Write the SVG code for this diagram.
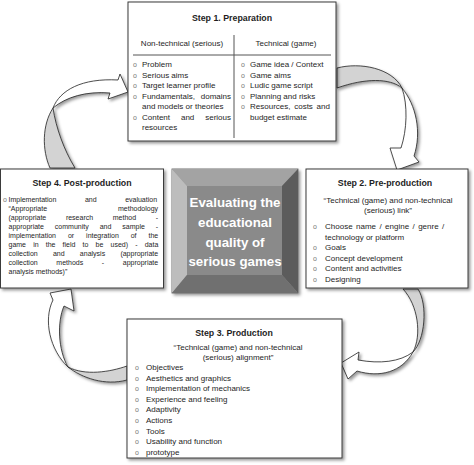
<svg xmlns="http://www.w3.org/2000/svg" width="474" height="465" viewBox="0 0 474 465">
<defs>
<filter id="sh" x="-10%" y="-10%" width="125%" height="125%">
<feDropShadow dx="2" dy="2" stdDeviation="1.5" flood-color="#000" flood-opacity="0.4"/>
</filter>
<style>
.box{fill:#fff;stroke:#3a3a3a;stroke-width:1}
.t{font-family:"Liberation Sans",Arial,sans-serif;font-size:8px;fill:#1e1e1e}
.s{font-family:"Liberation Sans",Arial,sans-serif;font-size:7px;fill:#1e1e1e}
.h{font-family:"Liberation Sans",Arial,sans-serif;font-size:8.8px;font-weight:bold;fill:#1e1e1e;text-anchor:middle}
.c{text-anchor:middle}
.b{font-family:"Liberation Sans",Arial,sans-serif;font-size:7px;fill:#777}
.ctr{font-family:"Liberation Sans",Arial,sans-serif;font-size:13.3px;font-weight:bold;fill:#fff;text-anchor:middle}
.aw{fill:#fff;stroke:#222;stroke-width:0.8;stroke-linejoin:round}
.ag{fill:#d3d3d3;stroke:#222;stroke-width:0.8;stroke-linejoin:round}
.ln{stroke:#555;stroke-width:1;fill:none}
</style>
</defs>

<g id="connectors" filter="url(#sh)">
<!-- Step 4 -> Step 1 -->
<path class="ag" d="M50,168 C42,150 42,125 53,108 C56,128 64,150 75,168 Z"/>
<path class="aw" d="M53,108 C60,90 82,78 118,80 L120,74 L128,92 L108,99 L110,93 C86,91 66,97 53,108 Z"/>
<!-- Step 1 -> Step 2 -->
<path class="ag" d="M337,68 C360,62 392,68 402,88 C390,78 365,78 337,88 Z"/>
<path class="aw" d="M402,88 C416,105 422,132 414,156 L419,162 L397,170 L390,148 L401,148 C407,130 408,105 402,88 Z"/>
<!-- Step 2 -> Step 3 -->
<path class="ag" d="M403,289 C418,305 422,335 413,352 C425,340 428,305 418,289 Z"/>
<path class="aw" d="M413,352 C402,372 380,378 357,371 L348,379 L341,363 L359,352 L358,360 C380,364 400,362 413,352 Z"/>
<!-- Step 3 -> Step 4 -->
<path class="ag" d="M127,366 C110,372 85,376 68,367 C82,378 105,386 127,380 Z"/>
<path class="aw" d="M68,367 C50,350 43,320 53,300 L50,293 L71,289 L74,311 L64,306 C57,322 58,350 68,367 Z"/>
</g>

<g id="step1">
<rect class="box" x="128" y="2" width="208" height="139" filter="url(#sh)"/>
<text class="h" x="232" y="20.5">Step 1. Preparation</text>
<text class="t c" x="182" y="46">Non-technical (serious)</text>
<text class="t c" x="286" y="46">Technical (game)</text>
<line class="ln" x1="133" y1="55" x2="331" y2="55"/>
<line class="ln" x1="234" y1="35" x2="234" y2="138"/>
<text class="b" x="133" y="67">o</text><text class="t" x="142" y="67">Problem</text>
<text class="b" x="133" y="77.5">o</text><text class="t" x="142" y="77.5">Serious aims</text>
<text class="b" x="133" y="88">o</text><text class="t" x="142" y="88">Target learner profile</text>
<text class="b" x="133" y="98.5">o</text><text class="t" x="142" y="98.5" word-spacing="3.6">Fundamentals, domains</text>
<text class="t" x="142" y="109">and models or theories</text>
<text class="b" x="133" y="119.5">o</text><text class="t" x="142" y="119.5" word-spacing="8.7">Content and serious</text>
<text class="t" x="142" y="130">resources</text>
<text class="b" x="241" y="67">o</text><text class="t" x="250" y="67">Game idea / Context</text>
<text class="b" x="241" y="77.5">o</text><text class="t" x="250" y="77.5">Game aims</text>
<text class="b" x="241" y="88">o</text><text class="t" x="250" y="88">Ludic game script</text>
<text class="b" x="241" y="98.5">o</text><text class="t" x="250" y="98.5">Planning and risks</text>
<text class="b" x="241" y="109">o</text><text class="t" x="250" y="109" word-spacing="1.5">Resources, costs and</text>
<text class="t" x="250" y="119.5">budget estimate</text>
</g>

<g id="step2">
<rect class="box" x="306" y="169" width="162" height="119" filter="url(#sh)"/>
<text class="h" x="385" y="185.5">Step 2. Pre-production</text>
<text class="t c" x="388" y="203">“Technical (game) and non-technical</text>
<text class="t c" x="388" y="212.5">(serious) link”</text>
<text class="b" x="313" y="229">o</text><text class="t" x="325" y="229" word-spacing="1.2">Choose name / engine / genre /</text>
<text class="t" x="325" y="239.5">technology or platform</text>
<text class="b" x="313" y="250">o</text><text class="t" x="325" y="250">Goals</text>
<text class="b" x="313" y="260.5">o</text><text class="t" x="325" y="260.5">Concept development</text>
<text class="b" x="313" y="271">o</text><text class="t" x="325" y="271">Content and activities</text>
<text class="b" x="313" y="281.5">o</text><text class="t" x="325" y="281.5">Designing</text>
</g>

<g id="step3">
<rect class="box" x="127" y="319" width="215" height="139" filter="url(#sh)"/>
<text class="h" x="234" y="336">Step 3. Production</text>
<text class="t c" x="238" y="350">“Technical (game) and non-technical</text>
<text class="t c" x="238" y="360">(serious) alignment”</text>
<text class="b" x="135" y="370">o</text><text class="t" x="146" y="370">Objectives</text>
<text class="b" x="135" y="380.6">o</text><text class="t" x="146" y="380.6">Aesthetics and graphics</text>
<text class="b" x="135" y="391.2">o</text><text class="t" x="146" y="391.2">Implementation of mechanics</text>
<text class="b" x="135" y="401.8">o</text><text class="t" x="146" y="401.8">Experience and feeling</text>
<text class="b" x="135" y="412.4">o</text><text class="t" x="146" y="412.4">Adaptivity</text>
<text class="b" x="135" y="423">o</text><text class="t" x="146" y="423">Actions</text>
<text class="b" x="135" y="433.6">o</text><text class="t" x="146" y="433.6">Tools</text>
<text class="b" x="135" y="444.2">o</text><text class="t" x="146" y="444.2">Usability and function</text>
<text class="b" x="135" y="454.8">o</text><text class="t" x="146" y="454.8">prototype</text>
</g>

<g id="step4">
<rect class="box" x="0.5" y="169" width="163" height="119" filter="url(#sh)"/>
<text class="h" x="82" y="186">Step 4. Post-production</text>
<text class="b" x="3" y="201.5">o</text>
<text class="s" x="8.5" y="201.5" word-spacing="26.6">Implementation and evaluation</text>
<text class="s" x="8.5" y="210.6" word-spacing="69">“Appropriate methodology</text>
<text class="s" x="8.5" y="219.7" word-spacing="17.7">(appropriate research method -</text>
<text class="s" x="8.5" y="228.8" word-spacing="9">appropriate community and sample -</text>
<text class="s" x="8.5" y="237.9" word-spacing="10">implementation or integration of the</text>
<text class="s" x="8.5" y="247" word-spacing="5.2">game in the field to be used) - data</text>
<text class="s" x="8.5" y="256.1" word-spacing="13.3">collection and analysis (appropriate</text>
<text class="s" x="8.5" y="265.2" word-spacing="16.7">collection methods - appropriate</text>
<text class="s" x="8.5" y="274.3">analysis methods)”</text>
</g>

<g id="center">
<g filter="url(#sh)">
<rect x="172" y="169" width="126" height="124" fill="#8a8a8a" stroke="#555" stroke-width="0.8"/>
<polygon points="172,169 298,169 282,186 187,186" fill="#a3a3a3"/>
<polygon points="172,169 187,186 187,275 172,293" fill="#bdbdbd"/>
<polygon points="298,169 298,293 282,275 282,186" fill="#5c5c5c"/>
<polygon points="172,293 187,275 282,275 298,293" fill="#707070"/>
<rect x="187" y="186" width="95" height="89" fill="#8a8a8a"/>
</g>
<text class="ctr" x="235" y="206.5">Evaluating the</text>
<text class="ctr" x="235" y="226.5">educational</text>
<text class="ctr" x="235" y="246.5">quality of</text>
<text class="ctr" x="235" y="266">serious games</text>
</g>
</svg>
